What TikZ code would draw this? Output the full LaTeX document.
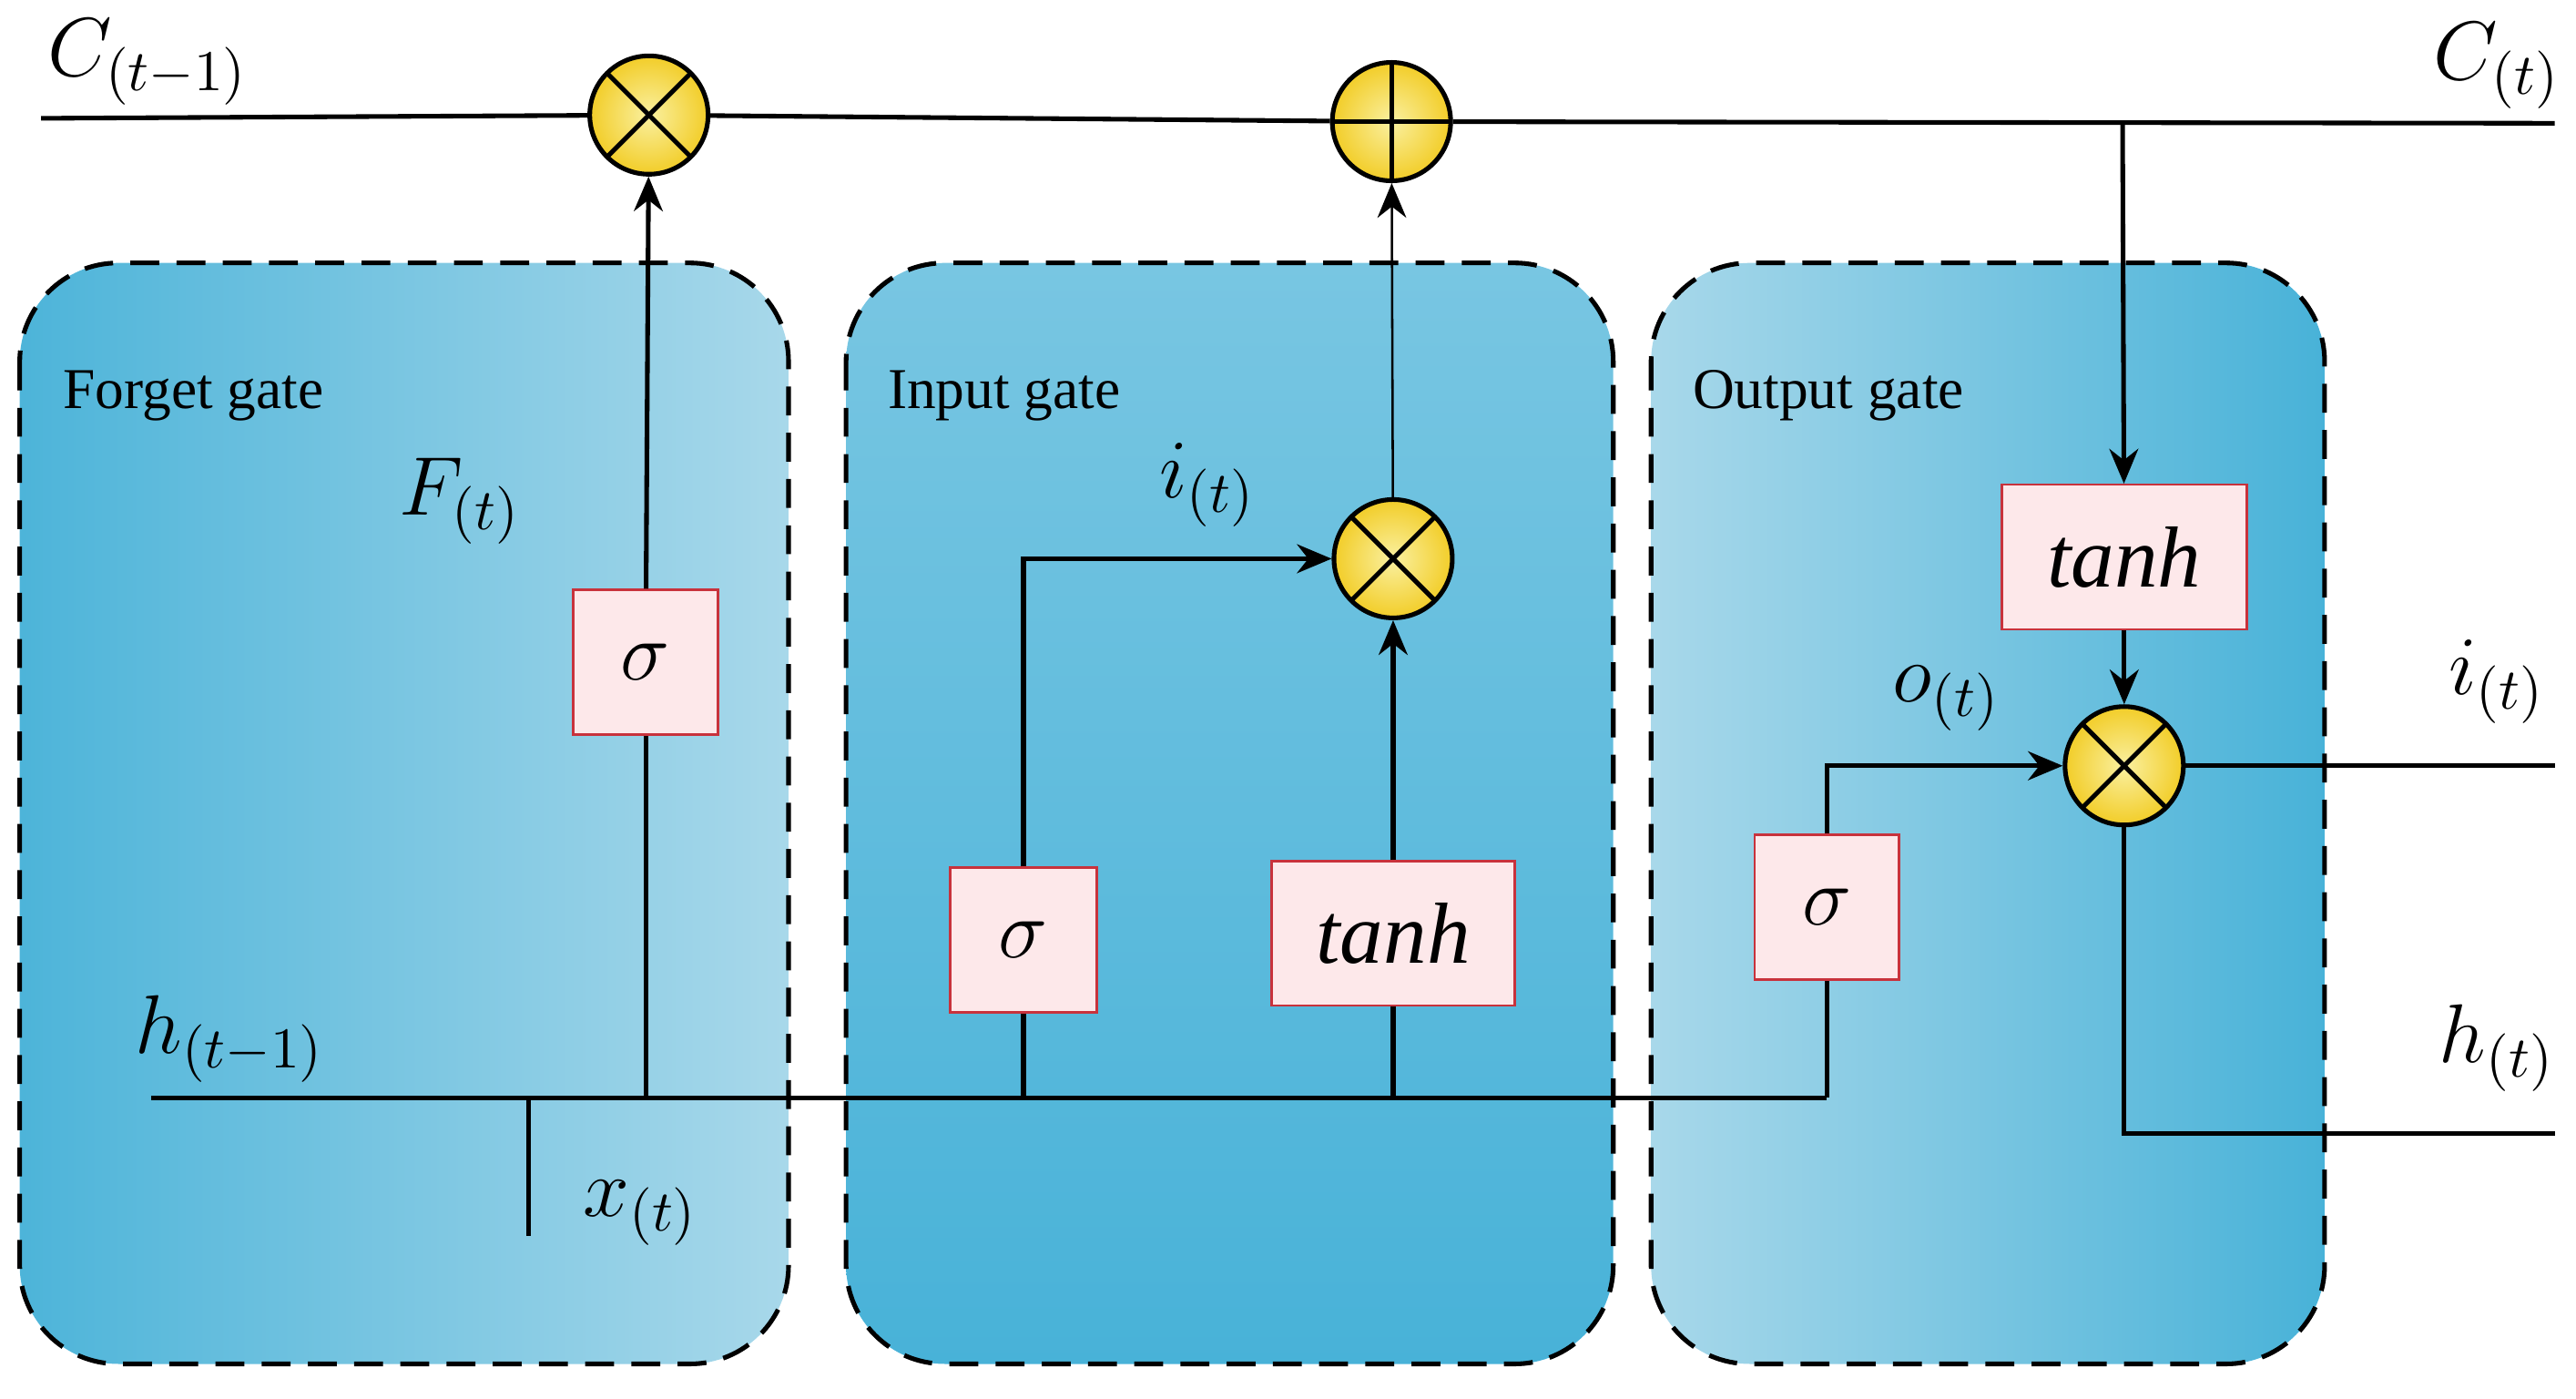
\documentclass[tikz,border=0pt]{standalone}
\usepackage{fontspec}
\setmainfont{Liberation Serif}
\usetikzlibrary{arrows.meta}
\definecolor{boxred}{RGB}{200,50,60}
\definecolor{boxfill}{RGB}{253,232,234}
\definecolor{bdark}{RGB}{72,178,216}
\definecolor{bmid}{RGB}{120,198,226}
\definecolor{blight}{RGB}{168,216,234}
\definecolor{ylight}{RGB}{250,240,160}
\definecolor{ydark}{RGB}{242,205,40}
\tikzset{
  gate/.style={draw, thick, dash pattern=on 5pt off 3pt, rounded corners=0.6cm},
  op/.style={circle, draw, thick, minimum size=0.72cm, inner sep=0pt,
    inner color=ylight, outer color=ydark},
  mul/.style={op, path picture={
    \draw (path picture bounding box.north west) -- (path picture bounding box.south east);
    \draw (path picture bounding box.north east) -- (path picture bounding box.south west);}},
  add/.style={op, path picture={
    \draw (path picture bounding box.north) -- (path picture bounding box.south);
    \draw (path picture bounding box.west) -- (path picture bounding box.east);}},
  act/.style={draw=boxred, fill=boxfill, minimum height=0.88cm, inner sep=0pt, font=\fontsize{15}{17}\selectfont},
  wire/.style={thick},
  arr/.style={thick, -{Stealth[length=6pt,width=5pt]}},
  lbl/.style={font=\fontsize{14}{16}\selectfont},
  title/.style={anchor=west, font=\fontsize{10}{12}\selectfont}
}
\begin{document}
\begin{tikzpicture}[x=0.01cm, y=-0.01cm]
\useasboundingbox (0,0) rectangle (1568,851);
% gate panels
\shade[shading angle=-45, left color=bdark!90!bmid, right color=blight, rounded corners=0.6cm]
  (12,160) rectangle (480,830);
\draw[gate] (12,160) rectangle (480,830);
\shade[top color=bmid, bottom color=bdark, rounded corners=0.6cm]
  (515,160) rectangle (982,830);
\draw[gate] (515,160) rectangle (982,830);
\shade[left color=blight, right color=bdark, rounded corners=0.6cm]
  (1005,160) rectangle (1415,830);
\draw[gate] (1005,160) rectangle (1415,830);
\node[title] (tf) at (26,241) {Forget gate};
\node[title] (ti) at (528,241) {Input gate};
\node[title] (to) at (1018,241) {Output gate};

% cell state line
\coordinate (cin) at (25,72);
\coordinate (cout) at (1555,75);
\node[mul] (m1) at (395,70) {};
\node[add] (a1) at (847,74) {};
\coordinate (ctap) at (1292,75);
\draw[wire] (cin) -- (m1) -- (a1) -- (cout);
\node[lbl] (lc0) at (90,38) {$C_{(t-1)}$};
\node[lbl] (lc1) at (1520,40) {$C_{(t)}$};

% input line
\coordinate (hin) at (92,668);
\coordinate (xin) at (322,752);
\coordinate (xj) at (322,668);
\coordinate (fj) at (393,668);
\coordinate (ij) at (623,668);
\coordinate (tj) at (848,668);
\coordinate (oj) at (1112,668);
\draw[wire] (hin) -- (oj);
\draw[wire] (xin) -- (xj);
\node[lbl] (lh) at (140,632) {$h_{(t-1)}$};
\node[lbl] (lx) at (390,738) {$x_{(t)}$};

% forget gate
\node[act, minimum width=0.88cm] (sf) at (393,403) {$\sigma$};
\draw[wire] (fj) -- (sf);
\draw[arr] (sf) -- (m1);
\node[lbl] (lf) at (280,305) {$F_{(t)}$};

% input gate
\node[act, minimum width=0.89cm] (si) at (623,572) {$\sigma$};
\node[act, minimum width=1.48cm] (th1) at (848,568) {$\mathit{tanh}$};
\node[mul] (m2) at (848,340) {};
\draw[wire] (ij) -- (si);
\draw[wire] (tj) -- (th1);
\draw[arr] (si.north) |- (m2);
\draw[arr] (th1) -- (m2);
\draw[-{Stealth[length=6pt,width=5pt]}] (m2) -- (a1);
\node[lbl] (li) at (735,295) {$i_{(t)}$};

% output gate
\node[act, minimum width=0.88cm] (so) at (1112,552) {$\sigma$};
\node[act, minimum width=1.49cm] (th2) at (1293,339) {$\mathit{tanh}$};
\node[mul] (m3) at (1293,466) {};
\draw[wire] (oj) -- (so);
\draw[arr] (so.north) |- (m3);
\draw[arr] (ctap) -- (th2);
\draw[arr] (th2) -- (m3);
\node[lbl] (lo) at (1185,425) {$o_{(t)}$};
\coordinate (iout) at (1555,466);
\coordinate (hout) at (1555,690);
\draw[wire] (m3) -- (iout);
\draw[wire] (m3) |- (hout);
\node[lbl] (li2) at (1520,415) {$i_{(t)}$};
\node[lbl] (lh2) at (1520,638) {$h_{(t)}$};
\end{tikzpicture}
\end{document}
